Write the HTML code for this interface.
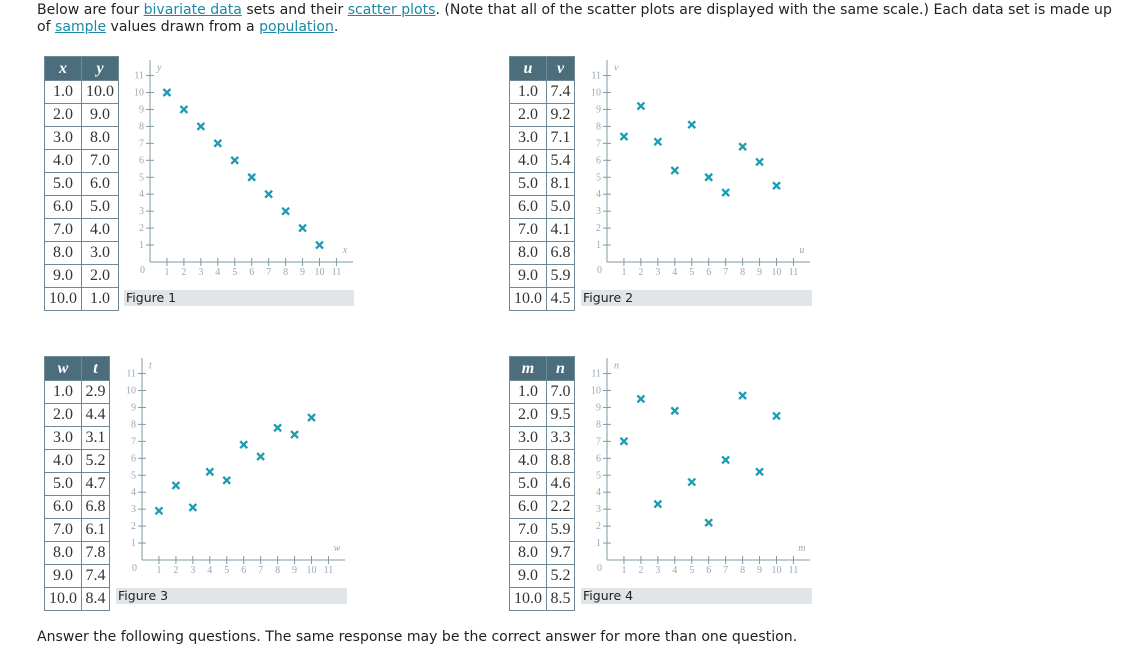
<!DOCTYPE html>
<html><head><meta charset="utf-8"><style>
body{margin:0;width:1128px;height:664px;background:#fff;position:relative;overflow:hidden;font-family:"DejaVu Sans","Liberation Sans",sans-serif;}
.txt{position:absolute;left:37px;font-size:14.05px;color:#222;line-height:17px;white-space:nowrap;letter-spacing:0px}
.txt a{color:#1a8aa6;text-decoration:underline}
table.dt{position:absolute;border-collapse:collapse;font-family:"Liberation Serif",serif;font-size:16px;color:#333}
table.dt td,table.dt th{border:1px solid #6f8a96;height:22px;padding:0 3px;text-align:center}
table.dt th{background:#4b6d7c;color:#fff;font-style:italic;font-weight:bold;height:23px}
.cap{position:absolute;height:16px;background:#e0e5e8;font-size:12.5px;color:#222;line-height:16px;padding-left:2px}
svg{position:absolute;left:0;top:0}
</style></head><body>
<div class="txt" style="top:2px">Below are four <a>bivariate data</a> sets and their <a>scatter plots</a>. (Note that all of the scatter plots are displayed with the same scale.) Each data set is made up<br>of <a>sample</a> values drawn from a <a>population</a>.</div>
<div class="txt" style="top:629px">Answer the following questions. The same response may be the correct answer for more than one question.</div>
<svg id="plots" width="1128" height="664"></svg>
<script>
const xs=[1,2,3,4,5,6,7,8,9,10];
const ys1=[10,9,8,7,6,5,4,3,2,1];
const ys2=[7.4,9.2,7.1,5.4,8.1,5.0,4.1,6.8,5.9,4.5];
const ys3=[2.9,4.4,3.1,5.2,4.7,6.8,6.1,7.8,7.4,8.4];
const ys4=[7.0,9.5,3.3,8.8,4.6,2.2,5.9,9.7,5.2,8.5];
const tickLabels=[1,2,3,4,5,6,7,8,9,10,11];
const figs=[
 {ys:ys1,vx:'x',vy:'y',tx:44,ty:56,ox:150,oy:262,capx:124,capw:228,capy:290,name:'Figure 1'},
 {ys:ys2,vx:'u',vy:'v',tx:509,ty:56,ox:607,oy:262,capx:581,capw:229,capy:290,name:'Figure 2'},
 {ys:ys3,vx:'w',vy:'t',tx:44,ty:356,ox:142,oy:560,capx:116,capw:229,capy:588,name:'Figure 3'},
 {ys:ys4,vx:'m',vy:'n',tx:509,ty:356,ox:607,oy:560,capx:581,capw:229,capy:588,name:'Figure 4'}
];
const NS='http://www.w3.org/2000/svg';
const svg=document.getElementById('plots');
function mk(tag,a,p){const e=document.createElementNS(NS,tag);for(const k in a)e.setAttribute(k,a[k]);(p||svg).appendChild(e);return e;}
const U=16.95;
figs.forEach((f,fi)=>{
 const t=document.createElement('table');t.className='dt';
 t.style.left=f.tx+'px';t.style.top=f.ty+'px';
 
 
 let h='<tr><th style="width:30px">'+f.vx+'</th><th style="width:'+(fi==0?30:21)+'px">'+f.vy+'</th></tr>';
 xs.forEach((x,i)=>{h+='<tr><td>'+x.toFixed(1)+'</td><td>'+f.ys[i].toFixed(1)+'</td></tr>';});
 t.innerHTML=h;document.body.appendChild(t);
 const c=document.createElement('div');c.className='cap';
 c.style.left=f.capx+'px';c.style.top=f.capy+'px';c.style.width=f.capw+'px';c.textContent=f.name;
 
 
 document.body.appendChild(c);
 const g=mk('g',{});
 
 
 const X=v=>f.ox+v*U, Y=v=>f.oy-v*U;
 mk('line',{x1:f.ox,y1:f.oy,x2:f.ox+203,y2:f.oy,stroke:'#7f9aa5','stroke-width':1},g);
 mk('line',{x1:f.ox,y1:f.oy,x2:f.ox,y2:f.oy-202,stroke:'#7f9aa5','stroke-width':1},g);
 tickLabels.forEach(v=>{
  mk('line',{x1:X(v),y1:f.oy-4,x2:X(v),y2:f.oy+4,stroke:'#7f9aa5'},g);
  mk('line',{x1:f.ox-4,y1:Y(v),x2:f.ox+4,y2:Y(v),stroke:'#7f9aa5'},g);
  const a=mk('text',{x:X(v),y:f.oy+13,'text-anchor':'middle','font-size':10,fill:'#9aa8ae','font-family':'Liberation Serif, serif'},g);a.textContent=v;
  const b=mk('text',{x:f.ox-6,y:Y(v)+3,'text-anchor':'end','font-size':10,fill:'#9aa8ae','font-family':'Liberation Serif, serif'},g);b.textContent=v;
 });
 const z=mk('text',{x:f.ox-5,y:f.oy+11,'text-anchor':'end','font-size':10,fill:'#9aa8ae','font-family':'Liberation Serif, serif'},g);z.textContent='0';
 const lx=mk('text',{x:X(11.5),y:f.oy-9,'text-anchor':'middle','font-size':10,'font-style':'italic',fill:'#9aa8ae','font-family':'Liberation Serif, serif'},g);lx.textContent=f.vx;
 const ly=mk('text',{x:f.ox+7,y:Y(11.3),'font-size':10,'font-style':'italic',fill:'#9aa8ae','font-family':'Liberation Serif, serif'},g);ly.textContent=f.vy;
 xs.forEach((x,i)=>{
  const px=X(x),py=Y(f.ys[i]),s=3.5;
  const p=mk('path',{d:`M${px-s},${py-s}L${px+s},${py+s}M${px+s},${py-s}L${px-s},${py+s}`,stroke:'#1a9db3','stroke-width':2.3,fill:'none'},g);
  
  
 });
});
</script>
</body></html>
